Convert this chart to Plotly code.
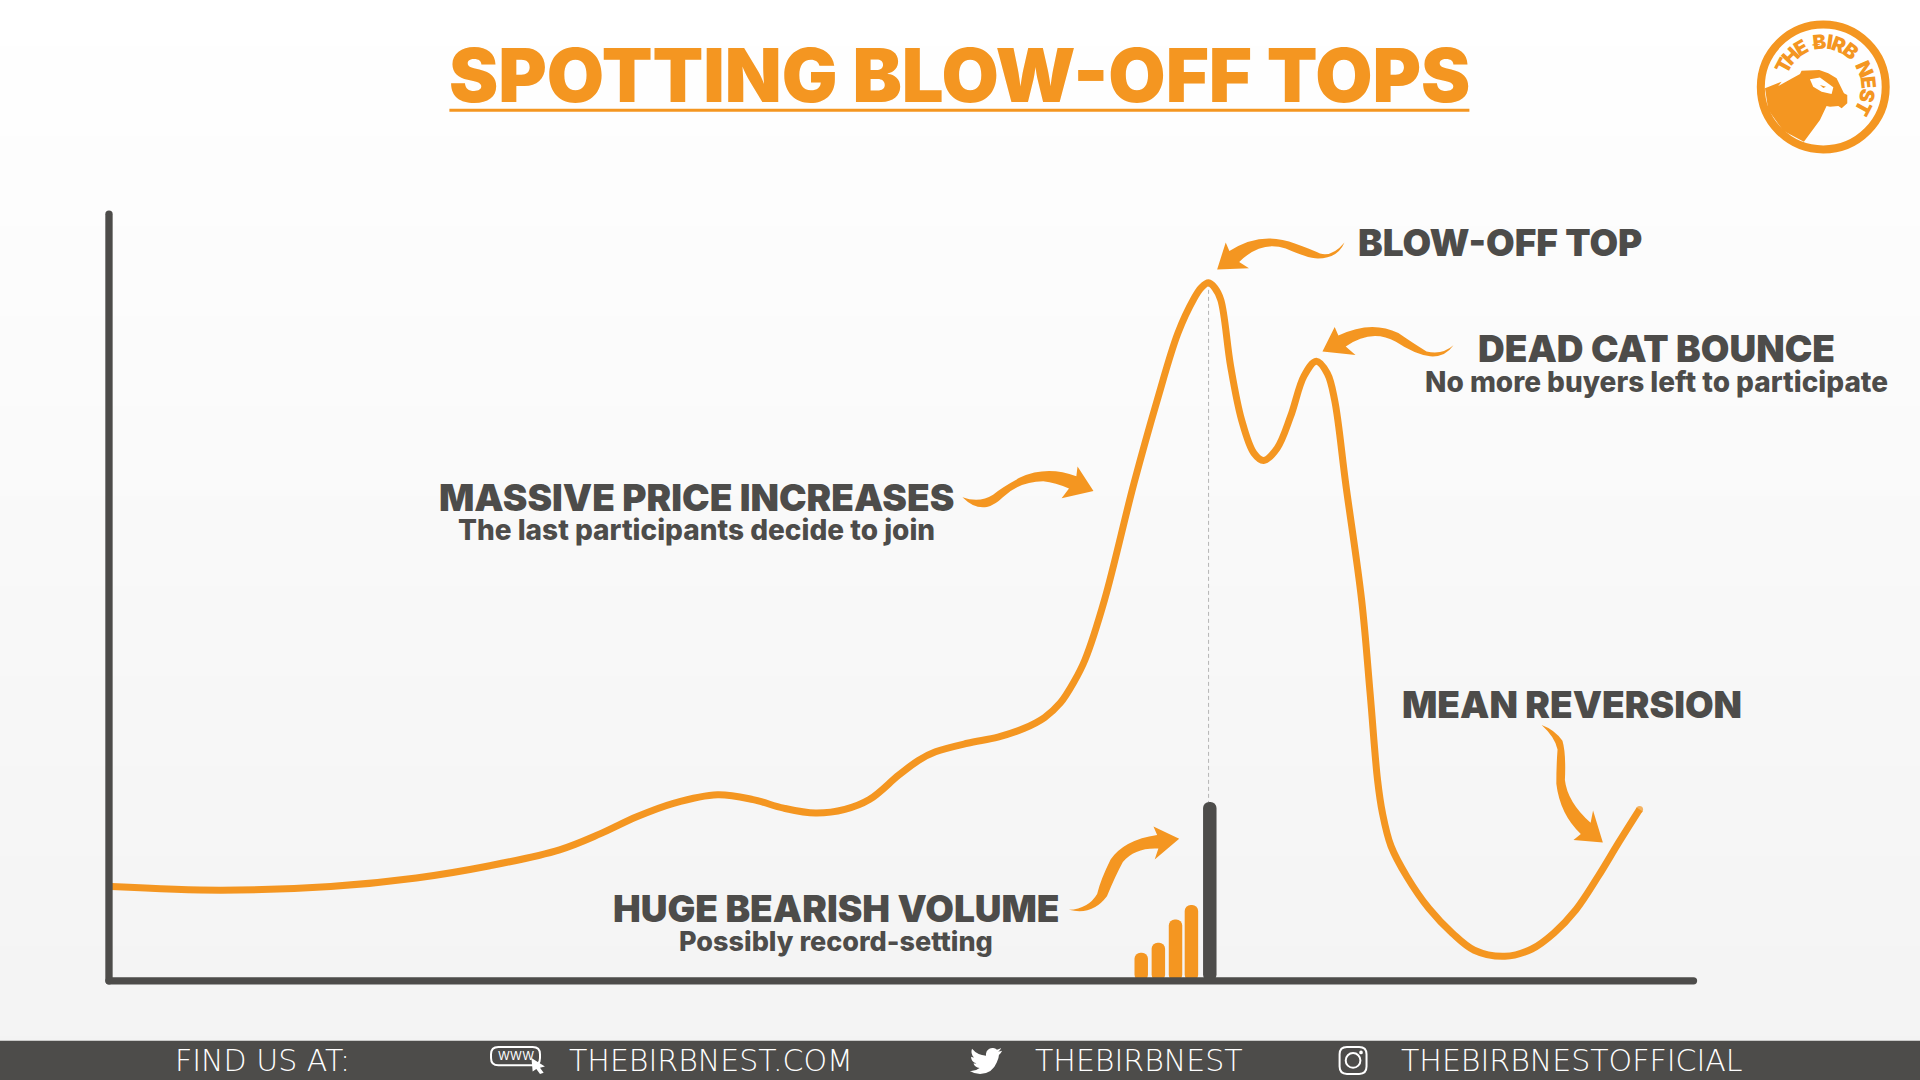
import re
import math
import plotly.graph_objects as go

ORANGE = '#F49621'
DARK = '#4D4C4A'
W, H = 1568, 882   # chart units, scaled up to 1920x1080 by the axes

# price curve
curve_x = [91, 180, 270, 340, 400, 457, 490, 520, 550, 586, 615, 640, 666, 690, 710, 734, 750, 764, 790, 815,
           836, 853, 866, 877, 886, 902, 926, 945, 962, 975, 981, 987, 992, 997, 1005, 1014, 1024, 1032, 1043,
           1054, 1065, 1075, 1084, 1090, 1099, 1112, 1119, 1125, 1129, 1136, 1149, 1167, 1186, 1204, 1229, 1251,
           1269, 1287, 1305, 1322, 1339]
curve_y = [158, 155, 158, 165, 175, 188, 201, 215, 226, 233, 229, 222, 218, 221, 229, 249, 261, 268, 275, 280,
           287, 296, 308, 325, 343, 392, 487, 555, 610, 638, 647, 651, 647, 637, 583, 539, 512, 506, 516,
           542, 575, 587, 577, 555, 487, 392, 315, 245, 218, 191, 166, 140, 120, 106, 101, 107,
           120, 139, 166, 194, 221]
curve_cap = [0] * (len(curve_x) - 1) + [7]

# volume bars
volume_x = [932, 946, 960, 973, 988]
volume_top = [104, 112, 131, 143, 227]
volume_colors = [ORANGE, ORANGE, ORANGE, ORANGE, DARK]
baseline = 81

title = 'SPOTTING BLOW-OFF TOPS'
labels = [
    ('BLOW-OFF TOP', 1225, 198, 37),
    ('DEAD CAT BOUNCE', 1353, 285, 37),
    ('MASSIVE PRICE INCREASES', 569, 406, 37),
    ('HUGE BEARISH VOLUME', 683, 742, 37),
    ('MEAN REVERSION', 1284, 575, 37),
]
sublabels = [
    ('No more buyers left to participate', 1353, 312, 28),
    ('The last participants decide to join', 569, 433, 28),
    ('Possibly record-setting', 683, 769, 27),
]
footer = [
    ('FIND US AT:', 214, 866),
    ('THEBIRBNEST.COM', 581, 866),
    ('THEBIRBNEST', 930, 866),
    ('THEBIRBNESTOFFICIAL', 1284, 866),
]
logo_letters = [('T', -62), ('H', -46), ('E', -30), ('\u0243', -6), ('I', 8), ('R', 21), ('B', 37),
                ('N', 66), ('E', 84), ('S', 101), ('T', 118)]


def flip(d):
    # paths below are written with y running down the picture
    return re.sub(r'(-?[\d.]+),(-?[\d.]+)', lambda m: f'{m[1]},{H - float(m[2])}', d)


def blob(d, color=ORANGE):
    return dict(type='path', path=flip(d), fillcolor=color, line=dict(width=0), layer='above')


def pill(x0, y0, x1, y1, r, color=DARK):
    d = (f'M{x0 + r},{y0} L{x1 - r},{y0} Q{x1},{y0} {x1},{y0 + r} L{x1},{y1 - r} Q{x1},{y1} {x1 - r},{y1} '
         f'L{x0 + r},{y1} Q{x0},{y1} {x0},{y1 - r} L{x0},{y0 + r} Q{x0},{y0} {x0 + r},{y0} Z')
    return blob(d, color)


def outline(x0, y0, x1, y1, r, width):
    s = pill(x0, y0, x1, y1, r, 'rgba(0,0,0,0)')
    s['line'] = dict(color='white', width=width)
    return s


def local(pts, ox, oy, sc):
    # logo and icon outlines are written in their own little coordinates
    return ' '.join(f'{c}{ox + sc * a:.1f},{oy + sc * b:.1f}' for c, a, b in pts)


arrows = [
    'M994,220 L1001,198 L1004,205 Q1030,188 1058,199 Q1072,204 1078,207 Q1088,210 1098,198 '
    'Q1092,212 1074,211 Q1066,210 1050,203 Q1030,196 1012,214 L1020,219 Z',
    'M1080,287 L1090,267 L1093,274 Q1120,261 1142,272 Q1155,281 1165,287 Q1178,290 1187,282 '
    'Q1180,292 1168,291 Q1155,289 1140,279 Q1120,268 1099,283 L1107,290 Z',
    'M893,401 L880,381 L879,389 Q855,380 833,390 Q818,398 811,404 Q800,411 786,406 '
    'Q796,416 806,414 Q813,412 819,406 Q833,393 852,393 Q862,394 873,399 L867,407 Z',
    'M963,685 L942,675 L945,682 Q918,686 907,702 Q899,718 896,730 Q889,742 873,743 '
    'Q892,748 904,732 Q911,715 917,704 Q927,692 946,693 L943,702 Z',
    'M1309,688 L1301,662 L1299,672 Q1280,655 1278,637 Q1279,615 1276,605 Q1270,596 1259,592 '
    'Q1270,602 1272,612 Q1271,625 1271,640 Q1274,665 1291,681 L1285,686 Z',
]

bird = [('M', 195, 265), ('L', 245, 245), ('L', 235, 258), ('L', 300, 222), ('L', 305, 212), ('L', 358, 210),
        ('L', 385, 220), ('L', 410, 235), ('L', 432, 280), ('L', 442, 285), ('L', 442, 310), ('L', 425, 325),
        ('L', 415, 318), ('L', 390, 320), ('L', 380, 318), ('L', 360, 360), ('L', 312, 425), ('L', 250, 392),
        ('L', 205, 330)]
eye = [('M', 330, 238), ('L', 360, 232), ('L', 400, 262), ('L', 395, 282), ('L', 365, 275), ('L', 340, 260)]
pupil = [('M', 360, 255), ('L', 378, 260), ('L', 370, 264)]
twitter = [('M', 24, 4.6), ('Q', 22.7, 5.2), ('', 21.1, 5.3), ('Q', 22.7, 4.4), ('', 23.3, 2.6), ('Q', 21.8, 3.5),
           ('', 20.2, 3.8), ('Q', 18.7, 2.3), ('', 16.6, 2.6), ('Q', 12.7, 3), ('', 12, 6.8), ('Q', 12, 7.9),
           ('', 12.1, 8.4), ('Q', 5.7, 8), ('', 1.6, 3.2), ('Q', .3, 6.9), ('', 3.2, 9.7), ('Q', 2, 9.6),
           ('', .9, 9.1), ('Q', 1, 13), ('', 4.9, 14), ('Q', 3.8, 14.3), ('', 2.7, 14.1), ('Q', 3.7, 17),
           ('', 7.3, 17.5), ('Q', 4.3, 20), ('', 0, 19.6), ('Q', 3.4, 21.8), ('', 7.6, 21.8), ('Q', 16.6, 21.8),
           ('', 20, 13.4), ('Q', 21.6, 10), ('', 21.6, 7.8), ('Q', 23, 6.8), ('', 24, 4.6)]
cursor = [('M', 0, 0), ('L', 11, 7), ('L', 7, 8), ('L', 10, 12), ('L', 7, 13), ('L', 4, 9), ('L', 1, 11)]

fig = go.Figure()

# background gradient
fig.add_trace(go.Heatmap(x=[0, W], y=[0, H], z=[[1, 1], [0, 0]], zsmooth='best', showscale=False, hoverinfo='skip',
                         colorscale=[[0, '#FFFFFF'], [1, '#F3F3F3']]))
fig.add_trace(go.Scatter(x=[987, 987], y=[H - 231, H - 655], mode='lines',
                         line=dict(color='#B5B5B5', width=1, dash='4px,3px')))
fig.add_trace(go.Bar(x=volume_x, y=[t - baseline for t in volume_top], base=baseline, width=11,
                     marker=dict(color=volume_colors, cornerradius=7, line=dict(width=0))))
fig.add_trace(go.Scatter(x=curve_x, y=curve_y, mode='lines+markers',
                         line=dict(color=ORANGE, width=7, shape='spline', smoothing=1.0),
                         marker=dict(color=ORANGE, size=curve_cap, line=dict(width=0))))

shapes = [
    dict(type='rect', x0=0, x1=W, y0=0, y1=H - 850, fillcolor=DARK, line=dict(width=0), layer='above'),
    pill(86, 172, 92, 804, 3),
    pill(86, 798, 1386, 804, 3),
    dict(type='line', x0=367, x1=1200, y0=H - 90, y1=H - 90, line=dict(color=ORANGE, width=3)),
    dict(type='circle', x0=1489 - 51, x1=1489 + 51, y0=H - 71 - 51, y1=H - 71 + 51, line=dict(color=ORANGE, width=8)),
    blob(local(bird, 1388.3, 0, 0.2722) + ' Z'),
    blob(local(eye, 1388.3, 0, 0.2722) + ' Z', 'white'),
    blob(local(pupil, 1388.3, 0, 0.2722) + ' Z'),
    blob(local(twitter, 792, 853, 1.1) + ' Z', 'white'),
    blob(local(cursor, 434, 864, 1.0) + ' Z', 'white'),
    outline(401, 855, 441, 870, 6, 2),
    outline(1094, 855, 1116, 877, 6, 2),
    dict(type='circle', x0=1099, x1=1111, y0=H - 872, y1=H - 860, line=dict(color='white', width=2)),
    dict(type='circle', x0=1110, x1=1113, y0=H - 861, y1=H - 858, fillcolor='white', line=dict(width=0)),
]
shapes += [blob(a) for a in arrows]

annotations = [dict(x=783.5, y=H - 61, text=title, font=dict(family='Inter', size=74, color=ORANGE, weight=900))]
for text, x, y, size in labels:
    annotations.append(dict(x=x, y=H - y, text=text, font=dict(family='Inter', size=size, color=DARK, weight=900)))
for text, x, y, size in sublabels:
    annotations.append(dict(x=x, y=H - y, text=text, font=dict(family='Inter', size=size, color=DARK, weight=800)))
for text, x, y in footer:
    annotations.append(dict(x=x, y=H - y, text=text, font=dict(family='DejaVu Sans', size=30, color='white', weight=200)))
annotations.append(dict(x=421, y=H - 862, text='WWW', font=dict(family='Inter', size=12, color='white')))

# letters around the logo ring
for ch, ang in logo_letters:
    rad = math.radians(ang)
    annotations.append(dict(x=1489 + 36.7 * math.sin(rad), y=H - 71 + 36.7 * math.cos(rad), text=ch,
                            textangle=ang, font=dict(family='Inter', size=20, color=ORANGE, weight=900)))
for a in annotations:
    a.update(xref='x', yref='y', showarrow=False, xanchor='center', yanchor='middle')

fig.update_layout(
    width=1920, height=1080, margin=dict(l=0, r=0, t=0, b=0), showlegend=False,
    paper_bgcolor='white', plot_bgcolor='white', shapes=shapes, annotations=annotations,
    xaxis=dict(range=[0, W], visible=False, fixedrange=True),
    yaxis=dict(range=[0, H], visible=False, fixedrange=True),
)

fig.write_html('out.html', config=dict(displayModeBar=False),
               post_script="document.body.style.margin='0';document.body.style.overflow='hidden';")
